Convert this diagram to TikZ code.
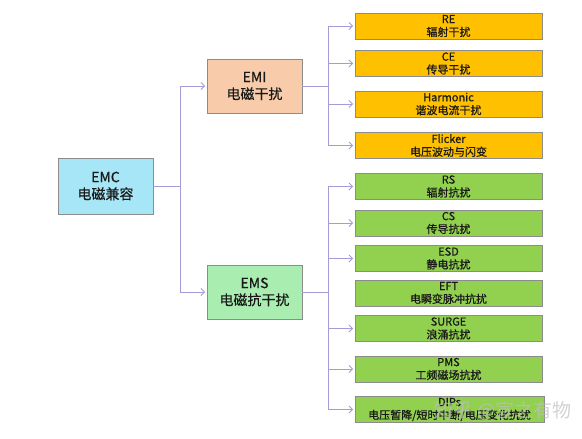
\documentclass[tikz,border=0pt]{standalone}
\usepackage{fontspec}
\setmainfont{Noto Sans CJK SC}[FakeBold=0.7]
\newfontfamily\markfont{Noto Sans CJK SC}
\usetikzlibrary{arrows.meta}

\definecolor{emcblue}{HTML}{A7E6F6}
\definecolor{emipeach}{HTML}{F8CBAA}
\definecolor{emsgreen}{HTML}{A9EDB1}
\definecolor{itemorange}{HTML}{FFC000}
\definecolor{itemgreen}{HTML}{92D050}
\definecolor{boxedge}{HTML}{8C8C8C}
\definecolor{linkline}{HTML}{A39CD6}

\begin{document}
\begin{tikzpicture}[x=1pt, y=-1pt,
  every node/.style = {draw=boxedge, line width=0.8pt, align=center, inner sep=0pt,
                       text=black!90, font=\fontsize{11}{13}\selectfont},
  topic/.style = {minimum width=95pt, minimum height=54pt, font=\fontsize{14}{17}\selectfont},
  emi item/.style = {fill=itemorange, minimum width=187pt, minimum height=26pt},
  ems item/.style = {fill=itemgreen, minimum width=187pt, minimum height=26pt},
  link/.style = {draw=linkline, line width=0.9pt},
  feed/.style = {link, -{Straight Barb[length=3.5pt, width=7pt]}, shorten >=1.5pt},
  ]
  \useasboundingbox (0,0) rectangle (582,439);

  % left side
  \node [topic, fill=emcblue, minimum height=56pt] (emc) at (105.5,186) {EMC\\电磁兼容};
  \node [topic, fill=emipeach] (emi) at (254.5,86) {EMI\\电磁干扰};
  \node [topic, fill=emsgreen] (ems) at (254.5,292) {EMS\\电磁抗干扰};

  % emission items
  \node [emi item] (re) at (448.5,26) {RE\\辐射干扰};
  \node [emi item] (ce) at (448.5,63.5) {CE\\传导干扰};
  \node [emi item] (harm) at (448.5,104) {Harmonic\\谐波电流干扰};
  \node [emi item] (flick) at (448.5,145.5) {Flicker\\电压波动与闪变};

  % immunity items
  \node [ems item] (rs) at (448.5,186.5) {RS\\辐射抗扰};
  \node [ems item] (cs) at (448.5,223) {CS\\传导抗扰};
  \node [ems item] (esd) at (448.5,258.5) {ESD\\静电抗扰};
  \node [ems item] (eft) at (448.5,293) {EFT\\电瞬变脉冲抗扰};
  \node [ems item] (surge) at (448.5,328.5) {SURGE\\浪涌抗扰};
  \node [ems item] (pms) at (448.5,369) {PMS\\工频磁场抗扰};
  \node [ems item, minimum width=189pt] (dips) at (449.5,409.5) {DIPs\\电压暂降/短时中断/电压变化抗扰};

  % connectors
  \coordinate (busA) at (180,0);
  \coordinate (busB) at (328,0);
  \draw [link] (emc.east) -- (emc.east -| busA);
  \draw [feed] (emc.east -| busA) |- (emi.west);
  \draw [feed] (emc.east -| busA) |- (ems.west);

  \draw [link] (emi.east) -- (emi.east -| busB);
  \draw [feed] (emi.east -| busB) |- (re.west);
  \draw [feed] (emi.east -| busB) |- (ce.west);
  \draw [feed] (emi.east -| busB) |- (harm.west);
  \draw [feed] (emi.east -| busB) |- (flick.west);

  \draw [link] (ems.east) -- (ems.east -| busB);
  \draw [feed] (ems.east -| busB) |- (rs.west);
  \draw [feed] (ems.east -| busB) |- (cs.west);
  \draw [feed] (ems.east -| busB) |- (esd.west);
  \draw [feed] (ems.east -| busB) |- (surge.west);
  \draw [feed] (ems.east -| busB) |- (pms.west);
  \draw [feed] (ems.east -| busB) |- (dips.west);

  % watermark
  \node [draw=none, text=white!50!gray, opacity=0.7, font=\markfont\fontsize{19}{21}\selectfont]
    (mark) at (503,411) {知乎 @宣之有物};
\end{tikzpicture}
\end{document}
